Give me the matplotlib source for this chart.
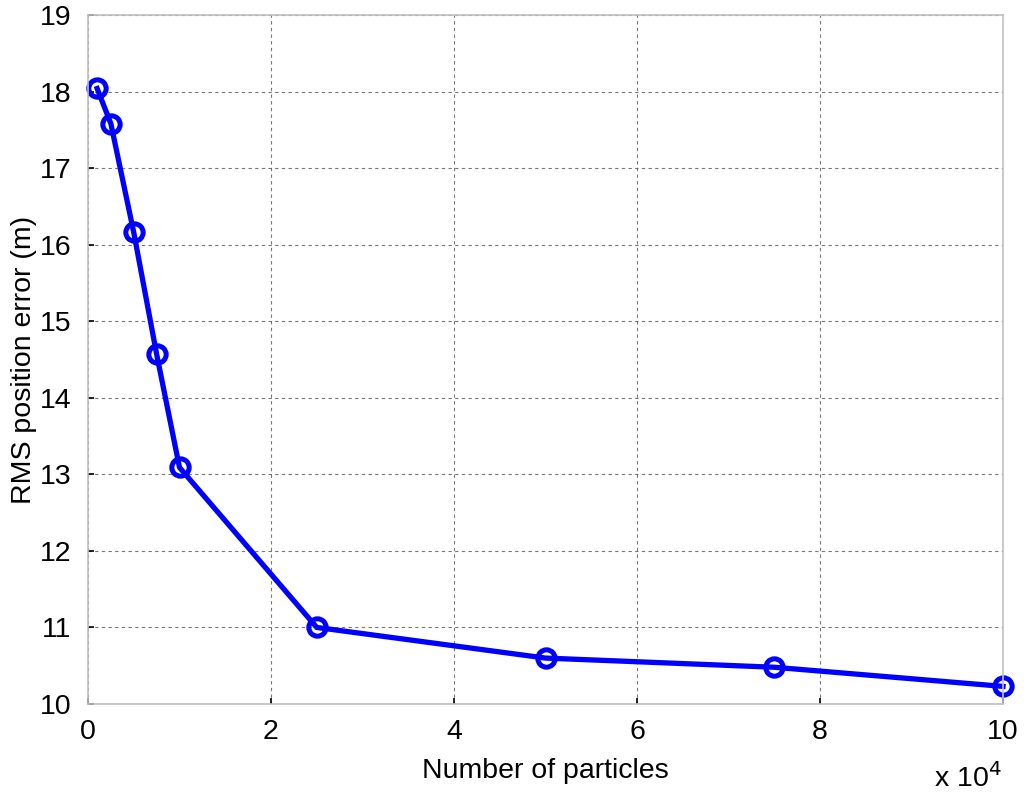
import numpy as np
import matplotlib
matplotlib.use("Agg")
import matplotlib.pyplot as plt

plt.rcParams['font.family'] = ['Liberation Sans', 'DejaVu Sans']

# particle counts and RMS error
particles = [1000, 2500, 5000, 7500, 10000, 25000, 50000, 75000, 100000]
rms_error = [18.04, 17.58, 16.16, 14.57, 13.09, 11.00, 10.60, 10.48, 10.23]

fig = plt.figure(figsize=(10.24, 7.99), dpi=100)
ax = fig.add_axes([88 / 1024, 1 - 704 / 799, (1003 - 88) / 1024, (704 - 15) / 799])

ax.plot(np.array(particles) / 1e4, rms_error, color='#0000ff', linewidth=3.8,
        marker='o', markersize=12.5, markerfacecolor='none',
        markeredgewidth=3.6, markeredgecolor='#0000ff', clip_on=False)

ax.set_xlim(0, 10)
ax.set_ylim(10, 19)
ax.set_xticks(np.arange(0, 11, 2))
ax.set_yticks(np.arange(10, 20, 1))

ax.grid(True, linestyle=(0, (3, 3)), color='#555555', linewidth=0.8, alpha=0.8)
for s in ax.spines.values():
    s.set_color('#c0c0c0')
    s.set_linewidth(1.2)
ax.tick_params(direction='in', length=4, width=1.2, color='black',
               labelsize=20.5)
ax.tick_params(axis='x', pad=11)
ax.tick_params(axis='y', pad=12)

ax.set_xlabel("Number of particles", fontsize=20.5, labelpad=9)
ax.set_ylabel("RMS position error (m)", fontsize=20.5, labelpad=2)
fig.text(0.978, 0.008, r"x 10$^{4}$", fontsize=20.5, ha='right', va='bottom')

fig.savefig("out.png", dpi=100)
